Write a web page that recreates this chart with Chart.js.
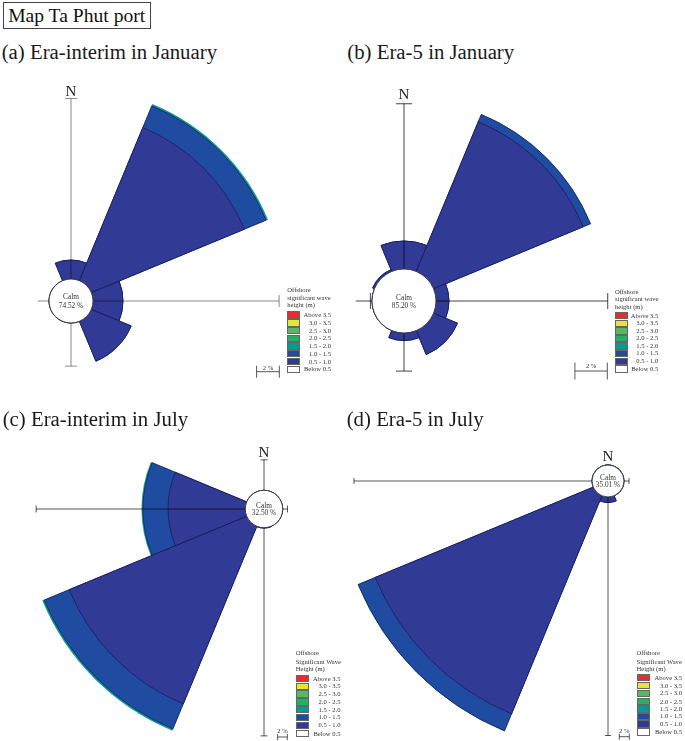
<!DOCTYPE html>
<html><head><meta charset="utf-8">
<script src="https://cdn.jsdelivr.net/npm/chart.js@4/dist/chart.umd.js"></script>
<style>
html,body{margin:0;padding:0;background:#fff;width:685px;height:741px;overflow:hidden;font-family:"Liberation Serif",serif;color:#222}
#page{position:relative;width:685px;height:741px;overflow:hidden}
canvas{position:absolute}
.t{position:absolute;white-space:nowrap}
.sw{position:absolute;box-sizing:border-box;border:0.7px solid #666}
</style></head><body><div id="page"></div>
<script>
// ---- data: percent occurrence per direction ----
const directions = ['N','NE','E','SE','S','SW','W','NW'];
const bandLabels = ['Above 3.5','3.0 - 3.5','2.5 - 3.0','2.0 - 2.5','1.5 - 2.0','1.0 - 1.5','0.5 - 1.0','Below 0.5'];
const bandColors = ['#ed2a2e','#e6e638','#56b85f','#22b163','#009b95','#1f4ca0','#313a95','#ffffff'];

const aBand05 = [1.67,14.6,2.64,3.8,0,0,0,0];
const aBand10 = [0,2.07,0,0,0,0,0,0];
const aBand15 = [0,0.15,0,0,0,0,0,0];
const bBand05 = [1.73,10.0,0.8,1.6,0.47,0,0,0.12];
const bBand10 = [0,0.49,0,0,0,0,0,0];
const bBand15 = [0,0,0,0,0,0,0,0];
const cBand05 = [0,0,0,0,0.08,39.8,16.0,0];
const cBand10 = [0,0,0,0,0,5.6,5.2,0];
const cBand15 = [0,0,0,0,0,0.35,0.25,0];
const dBand05 = [0,0,0,0,1.1,47.2,0,0];
const dBand10 = [0,0,0,0,0,3.7,0,0];
const dBand15 = [0,0,0,0,0,0,0,0];

const calmLabels = ['74.52 %','85.20 %','32.50 %','35.01 %'];
const panelTitles = ['(a) Era-interim in January','(b) Era-5 in January','(c) Era-interim in July','(d) Era-5 in July'];
const legendTitles = [
  ['Offshore','significant wave','height (m)'],
  ['Offshore','significant wave','height (m)'],
  ['Offshore','Significant Wave','Height (m)'],
  ['Offshore','Significant Wave','Height (m)']];
// axis reach in percent, order N, E, S, W
const aAxisReach = [15.9,16.4,3.8,1.0];
const bAxisReach = [10.2,10.6,2.35,1.0];
const cAxisReach = [6.3,1.0,43.1,43.3];
const dAxisReach = [0,1.0,47.7,47.6];
const scaleBarPercent = 2;

// ---- layout ----
const page = document.getElementById('page');
const panels = [
 {cx:71,cy:301,R:222,px:11.35,calm:22,bands:[aBand05,aBand10,aBand15],reach:aAxisReach,axisColor:'#8a8a8a',tick:6,noTick:[3],extraW:null,
  barRight:279.3,barY:371.7,barTick:6,labY:368,titleX:1.7,titleB:59,nY:92,calmDy:[-3.5,5],
  leg:{x:287.3,textY:[290,298,305.3],rowY:[315,323,330.7,338.3,346,353.7,361.7,369.3],right:331}},
 {cx:404,cy:301,R:212,px:16.2,calm:32,bands:[bBand05,bBand10,bBand15],reach:bAxisReach,axisColor:'#444',tick:8,noTick:[3],extraW:0.1,
  barRight:607.3,barY:371,barTick:8.5,labY:366.7,titleX:347.3,titleB:59,nY:95,calmDy:[-3.3,4.6],
  leg:{x:615,textY:[291.7,299.3,306.7],rowY:[315.7,323.3,331,338.3,346,353.3,361.3,369],right:658.3}},
 {cx:264,cy:509,R:246,px:4.83,calm:18.7,bands:[cBand05,cBand10,cBand15],reach:cAxisReach,axisColor:'#555',tick:3.5,noTick:[],extraW:null,
  barRight:287.3,barY:737,barTick:3,labY:731.7,titleX:2.7,titleB:426,nY:453,calmDy:[-3.3,4.5],
  leg:{x:295.7,textY:[653.3,661.7,669],rowY:[678.7,686.3,694,702,709.7,717.3,725.3,733.7],right:340.5}},
 {cx:608,cy:481,R:276,px:5,calm:16,bands:[dBand05,dBand10,dBand15],reach:dAxisReach,axisColor:'#555',tick:3,noTick:[],extraW:null,
  barRight:629.3,barY:736.7,barTick:3,labY:731.7,titleX:346.7,titleB:426,nY:456.7,calmDy:[-3.3,4.2],
  leg:{x:636.5,textY:[653.3,661.7,669],rowY:[677.7,685.7,693.3,701.7,709,716.3,724,732],right:682}}
];

function addText(txt,css){const d=document.createElement('div');d.className='t';d.textContent=txt;Object.assign(d.style,css);page.appendChild(d);return d;}

// heading box
addText('Map Ta Phut port',{left:'2.7px',top:'2.3px',width:'148px',height:'26.7px',lineHeight:'25.5px',fontSize:'19.6px',border:'1px solid #444',boxSizing:'border-box',textAlign:'center',color:'#111'});

const roseAxes={
  id:'roseAxes',
  afterDatasetsDraw(chart,args,o){
    const s=chart.scales.r,ctx=chart.ctx,p=o.panel,x=s.xCenter,y=s.yCenter;
    const dist=v=>s.getDistanceFromCenterForValue(v);
    ctx.save();
    ctx.globalCompositeOperation='multiply';
    ctx.strokeStyle=p.axisColor;ctx.lineWidth=1;
    const dirs=[[0,-1],[1,0],[0,1],[-1,0]];
    p.reach.forEach((v,i)=>{
      const d=dist(v),[dx,dy]=dirs[i];
      ctx.beginPath();ctx.moveTo(x,y);ctx.lineTo(x+dx*d,y+dy*d);
      if(!p.noTick.includes(i)){ctx.moveTo(x+dx*d-dy*p.tick,y+dy*d-dx*p.tick);ctx.lineTo(x+dx*d+dy*p.tick,y+dy*d+dx*p.tick);}
      ctx.stroke();
    });
    if(p.extraW!==null){const d=dist(p.extraW);ctx.beginPath();ctx.moveTo(x-d,y-p.tick);ctx.lineTo(x-d,y+p.tick);ctx.stroke();}
    ctx.restore();
    ctx.save();
    // calm circle: radius is the scale's zero
    const r0=dist(0);
    ctx.beginPath();ctx.arc(x,y,r0,0,Math.PI*2);ctx.fillStyle='#fff';ctx.fill();
    ctx.lineWidth=0.9;ctx.strokeStyle='#333';ctx.stroke();
    ctx.fillStyle='#333';ctx.textAlign='center';ctx.textBaseline='middle';
    ctx.font='7.3px "Liberation Serif"';
    ctx.fillText('Calm',x,y+p.calmDy[0]);
    ctx.fillText(o.calmLabel,x,y+p.calmDy[1]);
    // north label
    ctx.fillStyle='#222';ctx.font='15px "Liberation Serif"';
    ctx.fillText(directions[0],x,p.nY-p.cy+y);
    // scale bar, length from the scale
    const len=dist(scaleBarPercent)-dist(0);
    const bx=p.barRight-p.cx+x,by=p.barY-p.cy+y;
    ctx.strokeStyle='#444';ctx.lineWidth=0.9;
    ctx.beginPath();ctx.moveTo(bx-len,by);ctx.lineTo(bx,by);
    ctx.moveTo(bx-len,by-p.barTick);ctx.lineTo(bx-len,by+p.barTick);
    ctx.moveTo(bx,by-p.barTick);ctx.lineTo(bx,by+p.barTick);ctx.stroke();
    ctx.fillStyle='#333';ctx.font='6.6px "Liberation Serif"';
    ctx.fillText(scaleBarPercent+' %',bx-len/2,p.labY-p.cy+y);
    ctx.restore();
  }
};

panels.forEach((p,idx)=>{
  const cv=document.createElement('canvas');
  cv.width=p.R*2;cv.height=p.R*2;
  cv.style.left=(p.cx-p.R)+'px';cv.style.top=(p.cy-p.R)+'px';
  cv.style.width=p.R*2+'px';cv.style.height=p.R*2+'px';
  page.appendChild(cv);
  // cumulative rings, smallest first so it paints on top
  let run=directions.map(()=>0);
  const datasets=p.bands.map((band,b)=>{
    run=run.map((v,i)=>v+band[i]);
    return {label:bandLabels[6-b],data:run.slice(),backgroundColor:bandColors[6-b],
            borderColor:b===2?'#0c8a80':'#17175a',borderWidth:b===2?0.4:0.7};
  });
  new Chart(cv,{
    type:'polarArea',
    data:{labels:directions,datasets},
    options:{
      responsive:false,animation:false,devicePixelRatio:1,
      layout:{padding:0},
      plugins:{legend:{display:false},tooltip:{enabled:false},roseAxes:{panel:p,calmLabel:calmLabels[idx]}},
      scales:{r:{min:-p.calm/p.px,max:(p.R-p.calm)/p.px,startAngle:-22.5,
        ticks:{display:false},grid:{display:false},angleLines:{display:false},pointLabels:{display:false}}}
    },
    plugins:[roseAxes]
  });
  // panel title
  const fs=20.8;
  addText(panelTitles[idx],{left:p.titleX+'px',top:(p.titleB-0.8375*fs)+'px',fontSize:fs+'px',lineHeight:fs+'px',color:'#1a1a1a'});
  // legend
  const L=p.leg;
  legendTitles[idx].forEach((t,i)=>addText(t,{left:L.x+'px',top:(L.textY[i]-5)+'px',lineHeight:'10px',fontSize:'6.6px',color:'#333'}));
  bandLabels.forEach((t,i)=>{
    const sw=document.createElement('div');sw.className='sw';
    Object.assign(sw.style,{left:L.x+'px',top:(L.rowY[i]-3.6)+'px',width:'13px',height:'7.2px',background:bandColors[i]});
    page.appendChild(sw);
    addText(t,{right:(685-L.right)+'px',top:(L.rowY[i]-5)+'px',lineHeight:'10px',fontSize:'6.6px',color:'#333'});
  });
});
</script></body></html>
